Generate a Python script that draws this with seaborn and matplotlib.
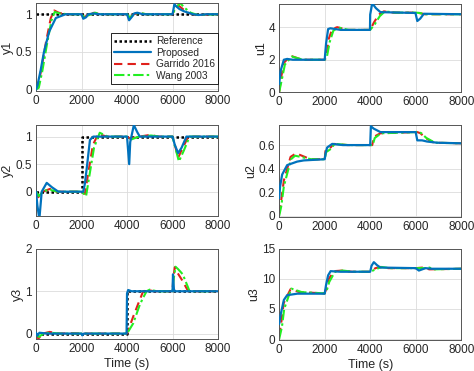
import numpy as np
import pandas as pd
import seaborn as sns
import matplotlib.pyplot as plt
from matplotlib.ticker import FuncFormatter

# ---------------- data ----------------
# y1
y1_ref_t = [0, 8000]
y1_ref = [1, 1]
y1_prop_t = [0, 60, 200, 350, 580, 870, 1300, 2000, 2075, 2200, 2300, 2520, 2800, 4000, 4090, 4200, 4310, 4450, 4700,
             6000, 6080, 6150, 6300, 6500, 6700, 6900, 7150, 7500, 8000]
y1_prop = [0, 0.05, 0.25, 0.5, 0.77, 0.95, 1.0, 1.0, 0.94, 0.96, 1.0, 1.01, 1.0, 1.0, 0.92, 0.96, 1.01, 1.02, 1.0,
           1.0, 1.13, 1.11, 1.07, 1.04, 1.02, 1.0, 0.99, 1.0, 1.0]
y1_gar_t = [0, 100, 250, 450, 650, 800, 1000, 1300, 2000, 2100, 2300, 2550, 2800, 4000, 4100, 4300, 4500, 4800,
            6000, 6100, 6250, 6450, 6700, 7000, 8000]
y1_gar = [0, 0.05, 0.3, 0.65, 0.95, 1.05, 1.02, 1.0, 1.0, 0.96, 0.99, 1.02, 1.0, 1.0, 0.95, 1.0, 1.02, 1.0,
          1.0, 1.08, 1.12, 1.07, 1.02, 0.99, 1.0]
y1_wang_t = [0, 120, 280, 480, 680, 820, 1050, 1400, 2000, 2100, 2350, 2600, 2900, 4000, 4120, 4350, 4550, 4850,
             6000, 6100, 6330, 6550, 6800, 7100, 8000]
y1_wang = [0, 0.02, 0.25, 0.6, 0.92, 1.03, 1.01, 1.0, 1.0, 0.97, 0.99, 1.02, 1.0, 1.0, 0.96, 1.0, 1.02, 1.0,
           1.0, 1.06, 1.15, 1.08, 1.02, 0.99, 1.0]

# y2
y2_ref_t = [0, 2000, 2000, 8000]
y2_ref = [0, 0, 1, 1]
y2_prop_t = [0, 60, 146, 250, 470, 700, 980, 2076, 2150, 2250, 2370, 2515, 4000, 4095, 4140, 4300, 4450, 4560,
             6000, 6100, 6245, 6400, 6610, 8000]
y2_prop = [0, -0.25, -0.5, 0.0, 0.16, 0.08, 0.0, 0.0, 0.15, 0.5, 0.94, 1.0, 1.0, 0.5, 0.9, 1.21, 1.08, 1.0,
           1.0, 0.85, 0.7, 0.8, 1.0, 1.0]
y2_gar_t = [0, 100, 300, 610, 900, 2000, 2150, 2300, 2500, 2735, 3100, 4000, 4150, 4400, 5000, 5400,
            6000, 6100, 6250, 6450, 6700, 8000]
y2_gar = [0, -0.1, 0.0, 0.05, 0.0, 0.0, -0.04, 0.35, 0.85, 1.05, 1.0, 1.0, 0.96, 0.99, 1.03, 1.0,
          1.0, 0.85, 0.62, 0.8, 1.0, 1.0]
y2_wang_t = [0, 120, 350, 650, 950, 2000, 2200, 2350, 2550, 2800, 3150, 4000, 4200, 4450, 5050, 5450,
             6000, 6120, 6280, 6500, 6750, 8000]
y2_wang = [0, -0.08, 0.02, 0.03, 0.0, 0.0, -0.08, 0.3, 0.8, 1.07, 1.0, 1.0, 0.95, 0.99, 1.02, 1.0,
           1.0, 0.8, 0.55, 0.75, 1.0, 1.0]

# y3
y3_ref_t = [0, 4000, 4000, 8000]
y3_ref = [0, 0, 1, 1]
y3_prop_t = [0, 60, 150, 500, 1000, 2000, 2030, 2100, 3980, 4000, 4050, 4200, 6000, 6020, 6060, 6100, 8000]
y3_prop = [0.02, -0.05, 0.02, 0.0, 0.0, 0.0, -0.04, 0.0, 0.0, 0.95, 1.03, 1.0, 1.0, 1.4, 1.05, 1.0, 1.0]
y3_gar_t = [0, 100, 300, 600, 1000, 1500, 2000, 4000, 4270, 4560, 4710, 4900, 5200,
            6000, 6030, 6100, 6200, 6400, 6690, 8000]
y3_gar = [0, -0.12, 0.0, 0.04, 0.0, 0.01, 0.0, 0.0, 0.4, 0.8, 1.0, 1.03, 1.0,
          1.0, 1.3, 1.57, 1.45, 1.28, 1.0, 1.0]
y3_wang_t = [0, 120, 350, 650, 1050, 2000, 4000, 4270, 4560, 4710, 4860, 5000, 5300,
             6000, 6040, 6130, 6250, 6450, 6750, 8000]
y3_wang = [0, -0.08, 0.01, 0.02, 0.0, 0.0, 0.0, 0.24, 0.68, 0.85, 1.0, 1.04, 1.0,
           1.0, 1.25, 1.58, 1.52, 1.4, 1.0, 1.0]

# u1
u1_prop_t = [0, 60, 205, 350, 600, 2000, 2060, 2150, 2250, 2700, 3990, 4000, 4090, 4250, 4450,
             5990, 6070, 6200, 6360, 8000]
u1_prop = [0.5, 1.3, 2.0, 2.05, 2.0, 2.0, 3.0, 3.9, 3.95, 3.85, 3.85, 4.8, 5.5, 5.2, 4.95,
           4.9, 4.4, 4.55, 4.85, 4.82]
u1_gar_t = [0, 100, 200, 500, 1000, 2000, 2080, 2180, 2330, 2550, 3000, 4000, 4160, 4380, 4600, 5000,
            6000, 6140, 6400, 8000]
u1_gar = [0, 1.0, 1.8, 2.25, 2.0, 2.0, 2.3, 3.3, 3.9, 4.02, 3.85, 3.85, 4.3, 4.8, 5.0, 4.92,
          4.92, 4.9, 4.82, 4.82]
u1_wang_t = [0, 120, 250, 550, 1050, 2000, 2100, 2220, 2380, 2600, 3050, 4000, 4200, 4420, 4650, 5100,
             6000, 6160, 6450, 8000]
u1_wang = [0, 0.8, 1.7, 2.2, 2.0, 2.0, 2.2, 3.1, 3.8, 4.0, 3.85, 3.85, 4.2, 4.7, 5.0, 4.92,
           4.92, 4.9, 4.82, 4.82]

# u2
u2_prop_t = [0, 40, 130, 350, 790, 1080, 2000, 2050, 2110, 2330, 2800, 4000, 4030, 4150, 4450,
             6000, 6070, 6280, 6500, 6945, 8000]
u2_prop = [0.15, 0.25, 0.35, 0.43, 0.46, 0.47, 0.48, 0.54, 0.58, 0.61, 0.6, 0.6, 0.76, 0.74, 0.71,
           0.71, 0.64, 0.64, 0.63, 0.62, 0.615]
u2_gar_t = [0, 80, 205, 500, 740, 1380, 2000, 2040, 2260, 2400, 3000, 4000, 4090, 4160, 4450,
            6000, 6070, 6210, 6430, 6800, 8000]
u2_gar = [0.02, 0.12, 0.3, 0.5, 0.53, 0.48, 0.48, 0.56, 0.58, 0.61, 0.6, 0.6, 0.6, 0.67, 0.7,
          0.71, 0.71, 0.7, 0.66, 0.62, 0.615]
u2_wang_t = [0, 90, 205, 520, 700, 1400, 2000, 2060, 2290, 2430, 3050, 4000, 4110, 4200, 4480,
             6000, 6100, 6250, 6470, 6850, 8000]
u2_wang = [0.0, 0.08, 0.25, 0.48, 0.51, 0.48, 0.48, 0.54, 0.57, 0.61, 0.6, 0.6, 0.6, 0.66, 0.7,
           0.71, 0.715, 0.7, 0.66, 0.62, 0.615]

# u3
u3_prop_t = [0, 60, 205, 350, 800, 2000, 2060, 2150, 2260, 2700, 4000, 4060, 4160, 4300, 4450,
             6000, 6140, 6430, 6700, 8000]
u3_prop = [2.5, 4.0, 6.5, 7.3, 7.55, 7.55, 9.0, 10.6, 11.3, 11.2, 11.2, 12.2, 12.8, 12.3, 11.9,
           11.8, 11.4, 11.8, 11.7, 11.7]
u3_gar_t = [0, 100, 200, 500, 900, 2000, 2080, 2180, 2400, 2770, 3200, 4000, 4230, 4450, 4800,
            6000, 6300, 6600, 8000]
u3_gar = [0.5, 3.0, 6.0, 8.3, 7.8, 7.6, 8.5, 10.0, 11.3, 11.4, 11.2, 11.2, 11.8, 12.0, 11.8,
          11.8, 11.9, 11.6, 11.7]
u3_wang_t = [0, 120, 220, 530, 1000, 2000, 2100, 2200, 2450, 2800, 3250, 4000, 4300, 4500, 4850,
             6000, 6400, 6600, 6800, 8000]
u3_wang = [0.0, 2.0, 5.0, 8.4, 7.8, 7.6, 8.2, 9.5, 11.2, 11.4, 11.2, 11.2, 11.7, 12.0, 11.8,
           11.8, 11.8, 11.9, 11.6, 11.7]

series_names = ['Reference', 'Proposed', 'Garrido 2016', 'Wang 2003']
xticks = [0, 2000, 4000, 6000, 8000]

# ---------------- style ----------------
sns.set_theme(style='white')
plt.rcParams['font.family'] = ['Liberation Sans', 'DejaVu Sans']

colors = {'Reference': 'black', 'Proposed': '#0072BD', 'Garrido 2016': '#E0201B', 'Wang 2003': '#22EE22'}
styles = {'Reference': (0, (1, 1)), 'Proposed': '-', 'Garrido 2016': (0, (4, 2.5)), 'Wang 2003': (0, (5, 1.5, 1.2, 1.5))}
widths = {'Reference': 1.8, 'Proposed': 1.6, 'Garrido 2016': 1.5, 'Wang 2003': 1.5}

fig = plt.figure(figsize=(4.74, 3.71), dpi=100)

panels = [
    ('y1', [0.076, 0.755, 0.384, 0.237], (-0.02, 1.15), [0, 0.5, 1],
     [(y1_ref_t, y1_ref), (y1_prop_t, y1_prop), (y1_gar_t, y1_gar), (y1_wang_t, y1_wang)]),
    ('u1', [0.589, 0.752, 0.384, 0.237], (0, 5.45), [0, 2, 4],
     [None, (u1_prop_t, u1_prop), (u1_gar_t, u1_gar), (u1_wang_t, u1_wang)]),
    ('y2', [0.076, 0.418, 0.384, 0.245], (-0.44, 1.21), [0, 0.5, 1],
     [(y2_ref_t, y2_ref), (y2_prop_t, y2_prop), (y2_gar_t, y2_gar), (y2_wang_t, y2_wang)]),
    ('u2', [0.589, 0.415, 0.384, 0.248], (-0.01, 0.77), [0, 0.2, 0.4, 0.6],
     [None, (u2_prop_t, u2_prop), (u2_gar_t, u2_gar), (u2_wang_t, u2_wang)]),
    ('y3', [0.076, 0.086, 0.384, 0.243], (-0.13, 2.0), [0, 1, 2],
     [(y3_ref_t, y3_ref), (y3_prop_t, y3_prop), (y3_gar_t, y3_gar), (y3_wang_t, y3_wang)]),
    ('u3', [0.589, 0.083, 0.384, 0.246], (-0.2, 15), [0, 5, 10, 15],
     [None, (u3_prop_t, u3_prop), (u3_gar_t, u3_gar), (u3_wang_t, u3_wang)]),
]

draw_order = ['Reference', 'Garrido 2016', 'Wang 2003', 'Proposed']

for name, pos, ylim, yticks, data in panels:
    ax = fig.add_axes(pos)
    lines = dict(zip(series_names, data))
    for s in draw_order:
        if lines[s] is None:
            continue
        t, v = lines[s]
        df = pd.DataFrame({'t': t, 'v': v})
        sns.lineplot(data=df, x='t', y='v', ax=ax, estimator=None, sort=False,
                     color=colors[s], linestyle=styles[s], linewidth=widths[s], label=s,
                     zorder=3 if s == 'Proposed' else 2)
    ax.set_xlim(0, 8000)
    ax.set_ylim(*ylim)
    ax.set_xticks(xticks)
    ax.set_yticks(yticks)
    ax.yaxis.set_major_formatter(FuncFormatter(lambda x, p: f'{x:g}'))
    ax.grid(True, color='#dcdcdc', linewidth=0.6)
    ax.tick_params(direction='in', length=2.5, width=0.6, labelsize=8.5, colors='#262626', pad=3)
    for sp in ax.spines.values():
        sp.set_color('#555555')
        sp.set_linewidth(0.7)
    ax.set_ylabel(name, fontsize=9, color='#262626', labelpad=1)
    if name in ('y3', 'u3'):
        ax.set_xlabel('Time (s)', fontsize=9, color='#262626', labelpad=2)
    else:
        ax.set_xlabel('')
    if name == 'y1':
        h, l = ax.get_legend_handles_labels()
        order = [l.index(s) for s in series_names]
        leg = ax.legend([h[i] for i in order], [l[i] for i in order], loc='lower right',
                        bbox_to_anchor=(1.0, 0.08), borderaxespad=0, fontsize=7.3,
                        handlelength=3.6, labelspacing=0.15, borderpad=0.3, handletextpad=0.5,
                        fancybox=False, framealpha=1, edgecolor='black')
        leg.get_frame().set_linewidth(0.6)
    else:
        if ax.get_legend() is not None:
            ax.get_legend().remove()

fig.savefig('out.png', dpi=100)
